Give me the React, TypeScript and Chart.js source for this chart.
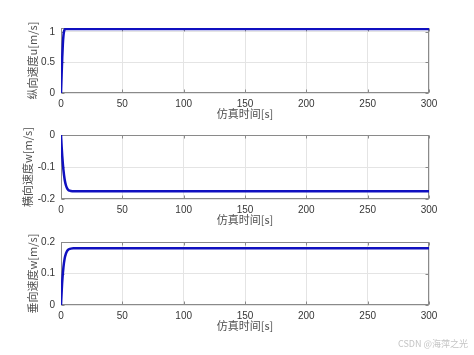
import React, { useEffect, useRef } from 'react';
import { Chart, registerables } from 'chart.js';
Chart.register(...registerables);

// ---- data ----
const xTickValues = [0, 50, 100, 150, 200, 250, 300];

const timeU = [0, 0.5, 1, 1.5, 2, 2.5, 3, 3.5, 4, 5, 10, 50, 100, 150, 200, 250, 300];
const uValues = [0, 0.3, 0.58, 0.8, 0.94, 1.01, 1.04, 1.05, 1.05, 1.05, 1.05, 1.05, 1.05, 1.05, 1.05, 1.05, 1.05];
const uTicks = [0, 0.5, 1];

const timeV = [0, 0.5, 1, 2, 3, 4, 5, 6, 7, 8, 10, 15, 50, 100, 150, 200, 250, 300];
const vValues = [0, -0.035, -0.065, -0.11, -0.14, -0.157, -0.167, -0.172, -0.174, -0.175, -0.176, -0.176, -0.176, -0.176, -0.176, -0.176, -0.176, -0.176];
const vTicks = [-0.2, -0.1, 0];

const timeW = [0, 0.5, 1, 2, 3, 4, 5, 6, 7, 8, 10, 15, 50, 100, 150, 200, 250, 300];
const wValues = [0, 0.04, 0.075, 0.12, 0.148, 0.163, 0.172, 0.176, 0.178, 0.179, 0.18, 0.18, 0.18, 0.18, 0.18, 0.18, 0.18, 0.18];
const wTicks = [0, 0.1, 0.2];

const xTitle = '仿真时间[s]';
const watermark = 'CSDN @海萍之光';

// ---- styles ----
const LINE = '#1010c0';
const BOX = '#8a8a8a';
const GRID = '#e4e4e4';
const TXT = '#363636';
const TITLE_TXT = '#505050';
const TICK_FONT = { family: 'Liberation Sans, Arial, sans-serif', size: 10 };
const TITLE_FONT = { family: '"Noto Sans CJK SC", "Liberation Sans", sans-serif', size: 11 };

const boxPlugin = {
  id: 'matlabBox',
  beforeDatasetsDraw(chart: any) {
    const { ctx, chartArea } = chart;
    const l = Math.round(chartArea.left) + 0.5;
    const t = Math.round(chartArea.top) + 0.5;
    const r = Math.round(chartArea.right) - 0.5;
    const b = Math.round(chartArea.bottom) - 0.5;
    ctx.save();
    ctx.strokeStyle = BOX;
    ctx.lineWidth = 1;
    ctx.strokeRect(l, t, r - l, b - t);
    const xs = chart.scales.x;
    const ys = chart.scales.y;
    ctx.beginPath();
    xs.ticks.forEach((tk: any) => {
      const px = Math.round(xs.getPixelForValue(tk.value)) + 0.5;
      ctx.moveTo(px, b); ctx.lineTo(px, b - 3);
      ctx.moveTo(px, t); ctx.lineTo(px, t + 3);
    });
    ys.ticks.forEach((tk: any) => {
      const py = Math.round(ys.getPixelForValue(tk.value)) + 0.5;
      ctx.moveTo(l, py); ctx.lineTo(l + 3, py);
      ctx.moveTo(r, py); ctx.lineTo(r - 3, py);
    });
    ctx.stroke();
    ctx.restore();
  },
};

type PanelProps = {
  top: number;
  plotHeight: number;
  time: number[];
  values: number[];
  yMin: number;
  yMax: number;
  yTicks: number[];
  yTitle: string;
  titleCenter: number;
};

function Panel({ top, plotHeight, time, values, yMin, yMax, yTicks, yTitle, titleCenter }: PanelProps) {
  const ref = useRef<HTMLCanvasElement | null>(null);
  const padTop = 10;
  const xHeight = 31;
  const h = padTop + plotHeight + xHeight;
  const areaLeft = 61;
  const padLeft = titleCenter - 7 - 4;
  useEffect(() => {
    if (!ref.current) return;
    const chart = new Chart(ref.current, {
      type: 'line',
      data: {
        datasets: [
          {
            data: time.map((t, i) => ({ x: t, y: values[i] })),
            borderColor: LINE,
            borderWidth: 2.5,
            pointRadius: 0,
            cubicInterpolationMode: 'monotone',
            fill: false,
          },
        ],
      },
      options: {
        animation: false,
        responsive: false,
        events: [],
        layout: { padding: { top: padTop, left: padLeft, right: 45, bottom: 0 } },
        plugins: { legend: { display: false }, tooltip: { enabled: false } },
        scales: {
          x: {
            type: 'linear',
            min: 0,
            max: 300,
            afterBuildTicks: (s: any) => { s.ticks = xTickValues.map((v) => ({ value: v })); },
            afterFit: (s: any) => { s.height = xHeight; },
            grid: { color: GRID, drawTicks: false },
            border: { display: false },
            ticks: { padding: 5, color: TXT, font: TICK_FONT, maxRotation: 0, callback: (v: any) => String(v) },
            title: { display: true, text: xTitle, color: TITLE_TXT, font: TITLE_FONT, padding: { top: 0, bottom: 4 } },
          },
          y: {
            type: 'linear',
            min: yMin,
            max: yMax,
            afterBuildTicks: (s: any) => { s.ticks = yTicks.map((v) => ({ value: v })); },
            afterFit: (s: any) => { s.width = areaLeft - padLeft; },
            grid: { color: GRID, drawTicks: false },
            border: { display: false },
            ticks: { padding: 6, color: TXT, font: TICK_FONT, callback: (v: any) => String(Math.round(v * 100) / 100) },
            title: { display: true, text: yTitle, color: TITLE_TXT, font: TITLE_FONT, padding: { top: 4, bottom: 0 } },
          },
        },
      } as any,
      plugins: [boxPlugin],
    });
    return () => chart.destroy();
  }, []);
  return (
    <canvas
      ref={ref}
      width={474}
      height={h}
      style={{ position: 'absolute', left: 0, top: top - padTop, width: 474, height: h }}
    />
  );
}

export default function App() {
  return (
    <div style={{ position: 'fixed', left: 0, top: 0, width: 474, height: 355, background: '#fff', overflow: 'hidden' }}>
      <Panel top={26} plotHeight={67} time={timeU} values={uValues} yMin={0} yMax={1.065} yTicks={uTicks} yTitle="纵向速度u[m/s]" titleCenter={33} />
      <Panel top={133} plotHeight={66} time={timeV} values={vValues} yMin={-0.2} yMax={0} yTicks={vTicks} yTitle="横向速度w[m/s]" titleCenter={28} />
      <Panel top={240} plotHeight={65} time={timeW} values={wValues} yMin={0} yMax={0.2} yTicks={wTicks} yTitle="垂向速度w[m/s]" titleCenter={33} />
      <div style={{ position: 'absolute', left: 398, top: 337, fontSize: 9, color: '#c4c4c4', fontFamily: '"Noto Sans CJK SC", sans-serif', whiteSpace: 'nowrap' }}>{watermark}</div>
    </div>
  );
}
